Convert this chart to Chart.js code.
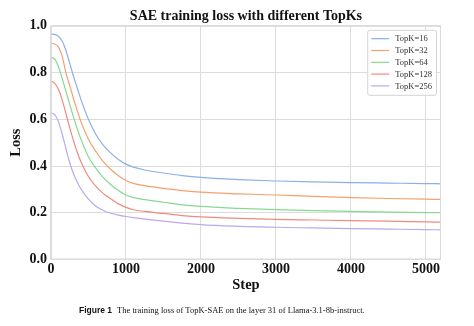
<!DOCTYPE html>
<html>
<head>
<meta charset="utf-8">
<script src="https://cdn.jsdelivr.net/npm/chart.js@4.4.1/dist/chart.umd.min.js"></script>
<style>
  html, body { margin: 0; padding: 0; background: #fff; }
  #wrap { position: relative; width: 474px; height: 326px; }
  #wrap canvas { position: absolute; left: 0; top: 0; }
  #caption {
    position: absolute; left: 79px; top: 305px; white-space: nowrap;
    font-family: 'Liberation Serif', 'Times New Roman', serif; font-size: 8.5px; color: #111;
  }
  #caption b { font-family: 'Liberation Sans', Arial, sans-serif; font-weight: bold; margin-right: 5px; }
</style>
</head>
<body>
<div id="wrap">
  <canvas id="c" width="474" height="326"></canvas>
  <div id="caption"><b>Figure 1</b>The training loss of TopK-SAE on the layer 31 of Llama-3.1-8b-instruct.</div>
</div>
<script>
// Training steps at which the loss was sampled
const steps = [0, 50, 100, 150, 200, 250, 300, 350, 400, 500, 600, 700, 800, 900, 1000, 1100, 1250, 1500, 1750, 2000, 2500, 3000, 3500, 4000, 4500, 5000, 5200];

// Loss per TopK setting
const lossTopK16  = [0.965, 0.963, 0.955, 0.935, 0.895, 0.840, 0.785, 0.735, 0.685, 0.600, 0.535, 0.488, 0.455, 0.428, 0.408, 0.395, 0.383, 0.370, 0.359, 0.351, 0.342, 0.336, 0.332, 0.329, 0.327, 0.325, 0.324];
const lossTopK32  = [0.925, 0.922, 0.910, 0.870, 0.800, 0.745, 0.690, 0.638, 0.590, 0.515, 0.462, 0.418, 0.385, 0.358, 0.338, 0.326, 0.316, 0.304, 0.295, 0.288, 0.281, 0.276, 0.270, 0.265, 0.261, 0.258, 0.257];
const lossTopK64  = [0.865, 0.858, 0.825, 0.775, 0.720, 0.665, 0.610, 0.560, 0.515, 0.440, 0.390, 0.350, 0.320, 0.295, 0.276, 0.265, 0.256, 0.245, 0.234, 0.227, 0.219, 0.213, 0.209, 0.206, 0.203, 0.201, 0.200];
const lossTopK128 = [0.763, 0.755, 0.728, 0.683, 0.625, 0.565, 0.510, 0.460, 0.418, 0.355, 0.313, 0.282, 0.259, 0.238, 0.223, 0.213, 0.206, 0.197, 0.188, 0.182, 0.176, 0.172, 0.169, 0.166, 0.164, 0.161, 0.160];
const lossTopK256 = [0.626, 0.620, 0.590, 0.537, 0.475, 0.415, 0.368, 0.332, 0.302, 0.258, 0.228, 0.210, 0.198, 0.190, 0.184, 0.179, 0.173, 0.164, 0.156, 0.149, 0.142, 0.138, 0.135, 0.132, 0.130, 0.128, 0.127];

const seriesLabels = ['TopK=16', 'TopK=32', 'TopK=64', 'TopK=128', 'TopK=256'];
const seriesValues = [lossTopK16, lossTopK32, lossTopK64, lossTopK128, lossTopK256];
const seriesColors = ['#8ab0e6', '#f5a06e', '#86d993', '#ef8a80', '#bba8ee'];

const xTicks = [0, 1000, 2000, 3000, 4000, 5000];
const yTicks = [0.0, 0.2, 0.4, 0.6, 0.8, 1.0];

const SERIF = "'Liberation Serif', 'Times New Roman', serif";

const datasets = seriesValues.map((vals, i) => ({
  label: seriesLabels[i],
  data: vals.map((v, j) => ({ x: steps[j], y: v })),
  borderColor: seriesColors[i],
  backgroundColor: seriesColors[i],
  borderWidth: 1.2,
  pointRadius: 0,
  cubicInterpolationMode: 'monotone',
  fill: false
}));

// Frame around the plot area plus an in-plot legend box (upper right)
const framePlugin = {
  id: 'frameAndLegend',
  afterDatasetsDraw(chart) {
    const { ctx, chartArea: a } = chart;
    ctx.save();
    ctx.strokeStyle = '#d9d9d9';
    ctx.lineWidth = 1;
    ctx.strokeRect(a.left + 0.5, a.top + 0.5, a.right - a.left - 1, a.bottom - a.top - 1);

    ctx.font = '8.5px ' + SERIF;
    const rowH = 11.8, lineLen = 18, gap = 6, padX = 4, padY = 3;
    const textW = Math.max(...chart.data.datasets.map(d => ctx.measureText(d.label).width));
    const w = padX + lineLen + gap + textW + padX;
    const h = padY * 2 + rowH * chart.data.datasets.length;
    const x0 = a.right - 5 - w, y0 = a.top + 4;
    ctx.fillStyle = 'rgba(255,255,255,0.85)';
    ctx.strokeStyle = '#d4d4d4';
    ctx.beginPath();
    ctx.roundRect(x0 + 0.5, y0 + 0.5, w, h, 2);
    ctx.fill();
    ctx.stroke();
    ctx.textBaseline = 'middle';
    chart.data.datasets.forEach((d, i) => {
      const cy = y0 + padY + rowH * (i + 0.5);
      ctx.strokeStyle = d.borderColor;
      ctx.lineWidth = 1.2;
      ctx.beginPath();
      ctx.moveTo(x0 + padX, cy);
      ctx.lineTo(x0 + padX + lineLen, cy);
      ctx.stroke();
      ctx.fillStyle = '#333';
      ctx.fillText(d.label, x0 + padX + lineLen + gap, cy + 0.5);
    });
    ctx.restore();
  }
};

new Chart(document.getElementById('c'), {
  type: 'line',
  data: { datasets },
  plugins: [framePlugin],
  options: {
    responsive: false,
    animation: false,
    layout: { padding: { left: 8, right: 33, top: 0, bottom: 34 } },
    plugins: {
      legend: { display: false },
      tooltip: { enabled: false },
      title: {
        display: true,
        fullSize: false,
        text: 'SAE training loss with different TopKs',
        color: '#111',
        font: { family: SERIF, size: 14, weight: 'bold' },
        padding: { top: 8, bottom: 1 }
      }
    },
    scales: {
      x: {
        type: 'linear',
        min: 0,
        max: 5200,
        afterBuildTicks(scale) { scale.ticks = xTicks.map(v => ({ value: v })); },
        ticks: { color: '#111', font: { family: SERIF, size: 14, weight: 'bold', lineHeight: 1.0 }, padding: 3, callback: v => String(v) },
        grid: { color: '#dcdcdc', lineWidth: 1, drawTicks: false },
        border: { display: false },
        title: { display: true, text: 'Step', color: '#111', font: { family: SERIF, size: 14.5, weight: 'bold', lineHeight: 1.0 }, padding: { top: -2, bottom: 0 } }
      },
      y: {
        min: 0,
        max: 1.0,
        afterBuildTicks(scale) { scale.ticks = yTicks.map(v => ({ value: v })); },
        ticks: { color: '#111', font: { family: SERIF, size: 14, weight: 'bold' }, padding: 4, callback: v => v.toFixed(1) },
        grid: { color: '#dcdcdc', lineWidth: 1, drawTicks: false },
        border: { display: false },
        title: { display: true, text: 'Loss', color: '#111', font: { family: SERIF, size: 14.5, weight: 'bold' }, padding: { top: 0, bottom: 0 } }
      }
    }
  }
});
</script>
</body>
</html>
